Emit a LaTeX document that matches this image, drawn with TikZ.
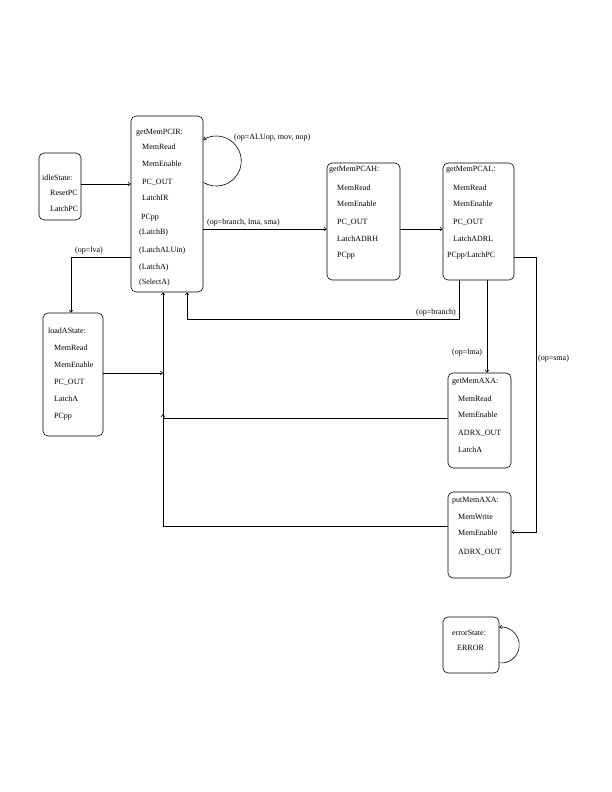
\documentclass[tikz,border=0pt]{standalone}
\usepackage{fontspec}
\setmainfont{Liberation Serif}
\usetikzlibrary{arrows.meta}
\begin{document}
\begin{tikzpicture}[x=1pt,y=-1pt,
  state/.style={draw, line width=0.6pt, rounded corners=5pt, inner sep=0pt},
  txt/.style={anchor=west, inner sep=0pt, font=\fontsize{8}{9}\selectfont},
  lbl/.style={anchor=west, inner sep=0pt, font=\fontsize{8}{9}\selectfont},
  conn/.style={line width=0.6pt, -{To[length=3pt,width=4pt]}},
  wire/.style={line width=0.6pt}]
\useasboundingbox (0,0) rectangle (612,792);
% states
\node[state, minimum width=42pt, minimum height=67pt] (idle) at (60,186.5) {};
\node[state, minimum width=72pt, minimum height=176pt] (pcir) at (167,204) {};
\node[state, minimum width=73pt, minimum height=117pt] (pcah) at (363.5,221.5) {};
\node[state, minimum width=71pt, minimum height=117pt] (pcal) at (478.5,221.5) {};
\node[state, minimum width=60pt, minimum height=123pt] (loada) at (73,374.5) {};
\node[state, minimum width=63pt, minimum height=95pt] (getax) at (479.5,420.5) {};
\node[state, minimum width=63pt, minimum height=86pt] (putax) at (479.5,535) {};
\node[state, minimum width=56pt, minimum height=56pt] (err) at (471,645) {};
% idle texts
\node[txt] (t1) at (42,178) {idleState:};
\node[txt] (t2) at (50,193) {ResetPC};
\node[txt] (t3) at (50,209) {LatchPC};
% pcir texts
\node[txt] (t4) at (136,133) {getMemPCIR:};
\node[txt] (t5) at (142,147) {MemRead};
\node[txt] (t6) at (142,164) {MemEnable};
\node[txt] (t7) at (142,182) {PC\_OUT};
\node[txt] (t8) at (142,198) {LatchIR};
\node[txt] (t9) at (141,218) {PCpp};
\node[txt] (t10) at (139,233) {(LatchB)};
\node[txt] (t11) at (139,251) {(LatchALUin)};
\node[txt] (t12) at (139,268) {(LatchA)};
\node[txt] (t13) at (139,283) {(SelectA)};
% pcah texts
\node[txt] (t14) at (329,170) {getMemPCAH:};
\node[txt] (t15) at (337,188) {MemRead};
\node[txt] (t16) at (337,204) {MemEnable};
\node[txt] (t17) at (337,222) {PC\_OUT};
\node[txt] (t18) at (337,239) {LatchADRH};
\node[txt] (t19) at (337,256) {PCpp};
% pcal texts
\node[txt] (t20) at (446,170) {getMemPCAL:};
\node[txt] (t21) at (453,188) {MemRead};
\node[txt] (t22) at (453,204) {MemEnable};
\node[txt] (t23) at (453,222) {PC\_OUT};
\node[txt] (t24) at (453,239) {LatchADRL};
\node[txt] (t25) at (447,256) {PCpp/LatchPC};
% loadA texts
\node[txt] (t26) at (48,331) {loadAState:};
\node[txt] (t27) at (54,348) {MemRead};
\node[txt] (t28) at (54,365) {MemEnable};
\node[txt] (t29) at (54,382) {PC\_OUT};
\node[txt] (t30) at (54,399) {LatchA};
\node[txt] (t31) at (54,417) {PCpp};
% getMemAXA texts
\node[txt] (t32) at (452,382) {getMemAXA:};
\node[txt] (t33) at (458,399) {MemRead};
\node[txt] (t34) at (458,415) {MemEnable};
\node[txt] (t35) at (458,433) {ADRX\_OUT};
\node[txt] (t36) at (458,450) {LatchA};
% putMemAXA texts
\node[txt] (t37) at (452,501) {putMemAXA:};
\node[txt] (t38) at (458,517) {MemWrite};
\node[txt] (t39) at (458,533) {MemEnable};
\node[txt] (t40) at (458,552) {ADRX\_OUT};
% error texts
\node[txt] (t41) at (452,633) {errorState:};
\node[txt] (t42) at (457,648) {ERROR};
% labels
\node[lbl] (l1) at (234,138) {(op=ALUop, mov, nop)};
\node[lbl] (l2) at (207,223) {(op=branch, lma, sma)};
\node[lbl] (l3) at (75,251) {(op=lva)};
\node[lbl, anchor=east] (l4) at (456,313) {(op=branch)};
\node[lbl] (l5) at (452,353) {(op=lma)};
\node[lbl] (l6) at (538,359) {(op=sma)};
% named corner coordinates
\coordinate (cLva) at (71,257);
\coordinate (cSmaA) at (536,257);
\coordinate (cSmaB) at (536,532);
\coordinate (cBrA) at (459,319);
\coordinate (cBrB) at (187,319);
\coordinate (cJoinA) at (163,373);
\coordinate (cJoinB) at (163,418);
\coordinate (cJoinBup) at (163,414);
\coordinate (cPutA) at (163,526);
% connectors
\draw[conn] (idle.east |- 0,184) -- (pcir.west |- 0,184);
\draw[conn] (pcir.east |- 0,229) -- (pcah.west |- 0,229);
\draw[conn] (pcah.east |- 0,229) -- (pcal.west |- 0,229);
\draw[conn] (pcal.east |- cSmaA) -- (cSmaA) -- (cSmaB) -- (putax.east |- cSmaB);
\draw[conn] (pcal.south -| cBrA) -- (cBrA) -- (cBrB) -- (pcir.south -| cBrB);
\draw[conn] (pcal.south -| 487,0) -- (getax.north -| 487,0);
\draw[conn] (pcir.west |- cLva) -- (cLva) -- (loada.north -| cLva);
\draw[conn] (loada.east |- cJoinA) -- (cJoinA);
\draw[conn] (getax.west |- cJoinB) -- (cJoinB) -- (cJoinBup);
\draw[conn] (putax.west |- cPutA) -- (cPutA) -- (pcir.south -| cPutA);
% self loops
\draw[conn] (pcir.east |- 0,182.4) arc[start angle=238.7, end angle=481.3, radius=25pt];
\draw[conn] (err.east |- 0,662.9) arc[start angle=263.7, end angle=456.3, radius=18pt];
\end{tikzpicture}
\end{document}
